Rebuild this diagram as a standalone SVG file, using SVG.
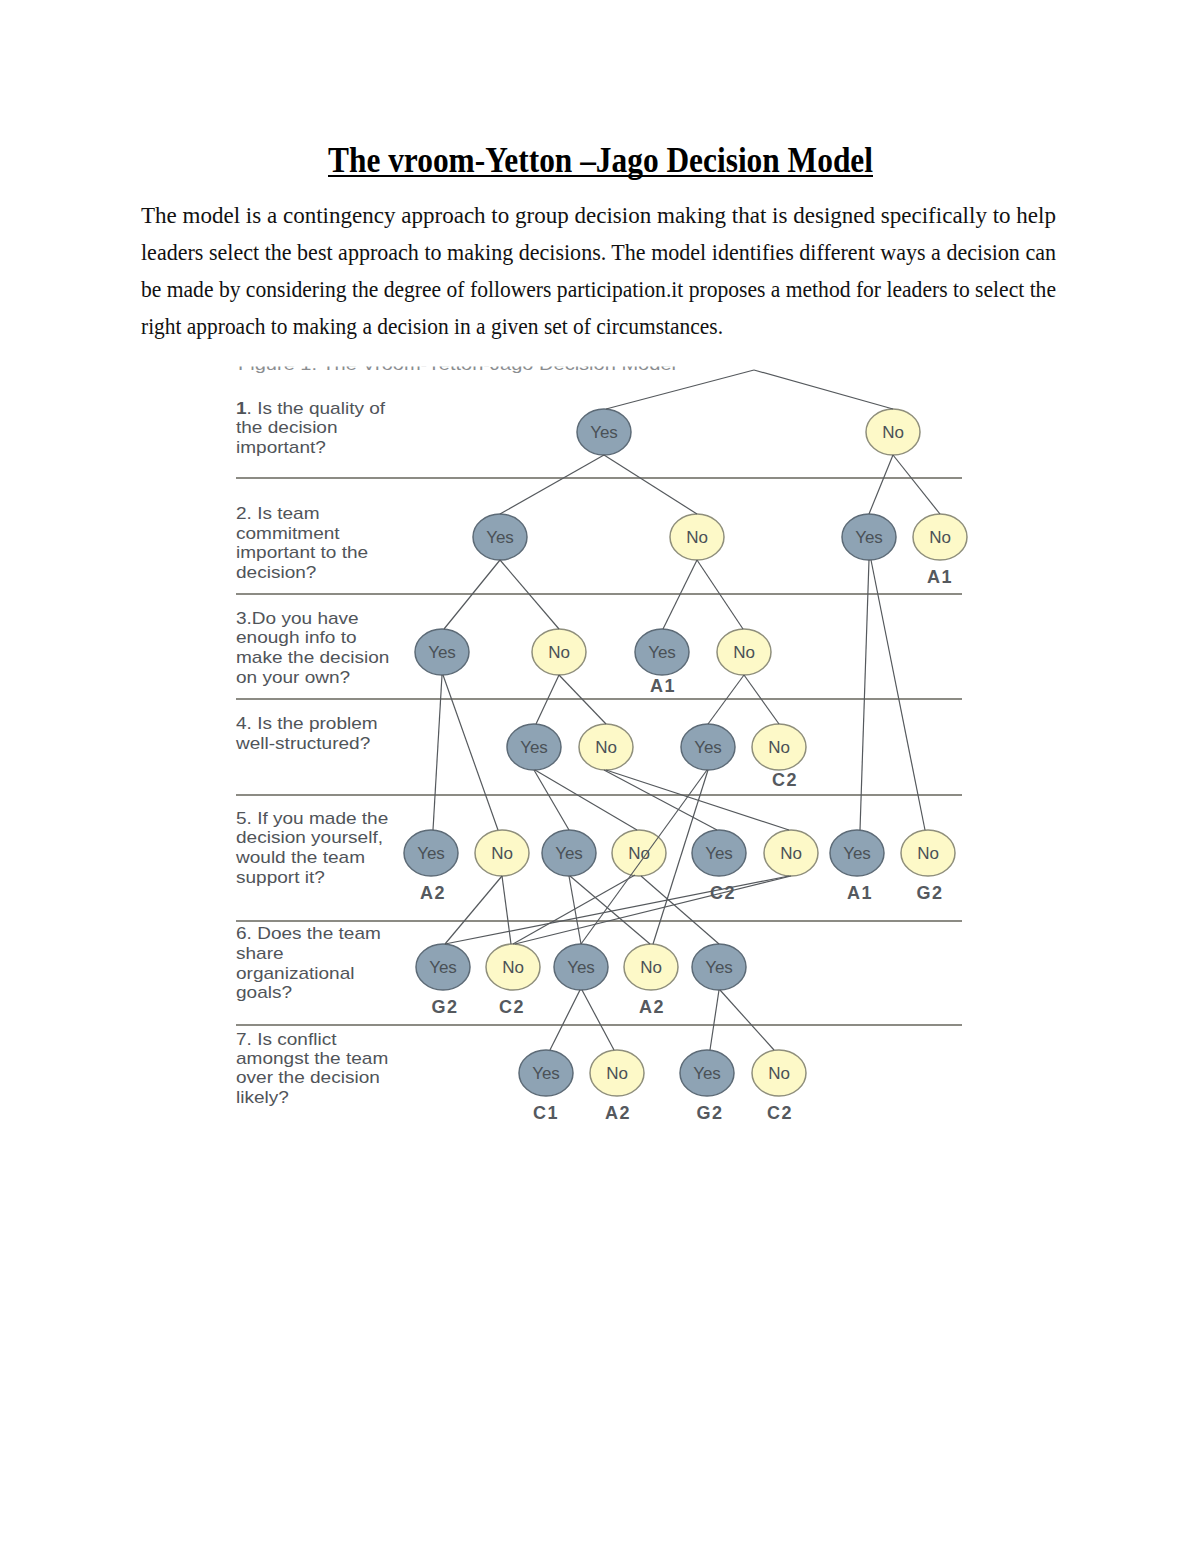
<svg xmlns="http://www.w3.org/2000/svg" width="1200" height="1553" viewBox="0 0 1200 1553">
<defs>
<style>
.bg{fill:#ffffff}
.title{font-family:"Liberation Serif","Times New Roman",serif;font-weight:bold;font-size:35px;fill:#000}
.body{font-family:"Liberation Serif","Times New Roman",serif;font-size:23px;fill:#111}
.q{font-family:"Liberation Sans",Arial,sans-serif;font-size:17px;fill:#505459}
.cap{font-family:"Liberation Sans",Arial,sans-serif;font-size:17px;fill:#8a8d90}
.div{stroke:#8c8b84;stroke-width:2}
.yes{fill:#8ea3b4;stroke:#5d6b77;stroke-width:1.5}
.no{fill:#fdf9c8;stroke:#8f8f7c;stroke-width:1.5}
.nt{font-family:"Liberation Sans",Arial,sans-serif;font-size:17px;fill:#4a5157;text-anchor:middle}
.lb{font-family:"Liberation Sans",Arial,sans-serif;font-size:18px;font-weight:bold;fill:#55595e;text-anchor:middle;letter-spacing:1.5px}
.edges line{stroke:#55595d;stroke-width:1.2}
</style>
<clipPath id="capclip"><rect x="230" y="366.5" width="460" height="8"/></clipPath>
</defs>
<rect class="bg" x="0" y="0" width="1200" height="1553"/>

<g id="header">
<text class="title" x="328" y="172" textLength="545" lengthAdjust="spacingAndGlyphs">The vroom-Yetton –Jago Decision Model</text>
<line x1="328" y1="176" x2="873" y2="176" stroke="#000" stroke-width="2"/>
<text class="body" x="141" y="223" textLength="915" lengthAdjust="spacingAndGlyphs">The model is a contingency approach to group decision making that is designed specifically to help</text>
<text class="body" x="141" y="260" textLength="915" lengthAdjust="spacingAndGlyphs">leaders select the best approach to making decisions. The model identifies different ways a decision can</text>
<text class="body" x="141" y="297" textLength="915" lengthAdjust="spacingAndGlyphs">be made by considering the degree of followers participation.it proposes a method for leaders to select the</text>
<text class="body" x="141" y="334" textLength="582" lengthAdjust="spacingAndGlyphs">right approach to making a decision in a given set of circumstances.</text>
</g>

<g id="caption" clip-path="url(#capclip)">
<text class="cap" x="238" y="369.5" textLength="438" lengthAdjust="spacingAndGlyphs">Figure 1: The Vroom-Yetton-Jago Decision Model</text>
</g>

<g id="dividers">
<line class="div" x1="236" y1="478" x2="962" y2="478"/>
<line class="div" x1="236" y1="594" x2="962" y2="594"/>
<line class="div" x1="236" y1="699" x2="962" y2="699"/>
<line class="div" x1="236" y1="795" x2="962" y2="795"/>
<line class="div" x1="236" y1="921" x2="962" y2="921"/>
<line class="div" x1="236" y1="1025" x2="962" y2="1025"/>
</g>

<g id="questions" transform="translate(236 0) scale(1.12 1)">
<text class="q" x="0" y="414"><tspan font-weight="bold">1</tspan>. Is the quality of</text>
<text class="q" x="0" y="433">the decision</text>
<text class="q" x="0" y="453">important?</text>
<text class="q" x="0" y="519">2. Is team</text>
<text class="q" x="0" y="539">commitment</text>
<text class="q" x="0" y="558">important to the</text>
<text class="q" x="0" y="578">decision?</text>
<text class="q" x="0" y="624">3.Do you have</text>
<text class="q" x="0" y="643">enough info to</text>
<text class="q" x="0" y="663">make the decision</text>
<text class="q" x="0" y="683">on your own?</text>
<text class="q" x="0" y="729">4. Is the problem</text>
<text class="q" x="0" y="749">well-structured?</text>
<text class="q" x="0" y="824">5. If you made the</text>
<text class="q" x="0" y="843">decision yourself,</text>
<text class="q" x="0" y="863">would the team</text>
<text class="q" x="0" y="883">support it?</text>
<text class="q" x="0" y="939">6. Does the team</text>
<text class="q" x="0" y="959">share</text>
<text class="q" x="0" y="979">organizational</text>
<text class="q" x="0" y="998">goals?</text>
<text class="q" x="0" y="1045">7. Is conflict</text>
<text class="q" x="0" y="1064">amongst the team</text>
<text class="q" x="0" y="1083">over the decision</text>
<text class="q" x="0" y="1103">likely?</text>
</g>

<!-- Row 1 -->
<g id="r1-yes"><ellipse class="yes" cx="604" cy="432" rx="27" ry="23"/><text class="nt" x="604" y="438">Yes</text></g>
<g id="r1-no"><ellipse class="no" cx="893" cy="432" rx="27" ry="23"/><text class="nt" x="893" y="438">No</text></g>
<!-- Row 2 -->
<g id="r2-yes-a"><ellipse class="yes" cx="500" cy="537" rx="27" ry="23"/><text class="nt" x="500" y="543">Yes</text></g>
<g id="r2-no-a"><ellipse class="no" cx="697" cy="537" rx="27" ry="23"/><text class="nt" x="697" y="543">No</text></g>
<g id="r2-yes-b"><ellipse class="yes" cx="869" cy="537" rx="27" ry="23"/><text class="nt" x="869" y="543">Yes</text></g>
<g id="r2-no-b"><ellipse class="no" cx="940" cy="537" rx="27" ry="23"/><text class="nt" x="940" y="543">No</text><text class="lb" x="940" y="583">A1</text></g>
<!-- Row 3 -->
<g id="r3-yes-a"><ellipse class="yes" cx="442" cy="652" rx="27" ry="23"/><text class="nt" x="442" y="658">Yes</text></g>
<g id="r3-no-a"><ellipse class="no" cx="559" cy="652" rx="27" ry="23"/><text class="nt" x="559" y="658">No</text></g>
<g id="r3-yes-b"><ellipse class="yes" cx="662" cy="652" rx="27" ry="23"/><text class="nt" x="662" y="658">Yes</text><text class="lb" x="663" y="692">A1</text></g>
<g id="r3-no-b"><ellipse class="no" cx="744" cy="652" rx="27" ry="23"/><text class="nt" x="744" y="658">No</text></g>
<!-- Row 4 -->
<g id="r4-yes-a"><ellipse class="yes" cx="534" cy="747" rx="27" ry="23"/><text class="nt" x="534" y="753">Yes</text></g>
<g id="r4-no-a"><ellipse class="no" cx="606" cy="747" rx="27" ry="23"/><text class="nt" x="606" y="753">No</text></g>
<g id="r4-yes-b"><ellipse class="yes" cx="708" cy="747" rx="27" ry="23"/><text class="nt" x="708" y="753">Yes</text></g>
<g id="r4-no-b"><ellipse class="no" cx="779" cy="747" rx="27" ry="23"/><text class="nt" x="779" y="753">No</text><text class="lb" x="785" y="786">C2</text></g>
<!-- Row 5 -->
<g id="r5-yes-a"><ellipse class="yes" cx="431" cy="853" rx="27" ry="23"/><text class="nt" x="431" y="859">Yes</text><text class="lb" x="433" y="899">A2</text></g>
<g id="r5-no-a"><ellipse class="no" cx="502" cy="853" rx="27" ry="23"/><text class="nt" x="502" y="859">No</text></g>
<g id="r5-yes-b"><ellipse class="yes" cx="569" cy="853" rx="27" ry="23"/><text class="nt" x="569" y="859">Yes</text></g>
<g id="r5-no-b"><ellipse class="no" cx="639" cy="853" rx="27" ry="23"/><text class="nt" x="639" y="859">No</text></g>
<g id="r5-yes-c"><ellipse class="yes" cx="719" cy="853" rx="27" ry="23"/><text class="nt" x="719" y="859">Yes</text><text class="lb" x="723" y="899">C2</text></g>
<g id="r5-no-c"><ellipse class="no" cx="791" cy="853" rx="27" ry="23"/><text class="nt" x="791" y="859">No</text></g>
<g id="r5-yes-d"><ellipse class="yes" cx="857" cy="853" rx="27" ry="23"/><text class="nt" x="857" y="859">Yes</text><text class="lb" x="860" y="899">A1</text></g>
<g id="r5-no-d"><ellipse class="no" cx="928" cy="853" rx="27" ry="23"/><text class="nt" x="928" y="859">No</text><text class="lb" x="930" y="899">G2</text></g>
<!-- Row 6 -->
<g id="r6-yes-a"><ellipse class="yes" cx="443" cy="967" rx="27" ry="23"/><text class="nt" x="443" y="973">Yes</text><text class="lb" x="445" y="1013">G2</text></g>
<g id="r6-no-a"><ellipse class="no" cx="513" cy="967" rx="27" ry="23"/><text class="nt" x="513" y="973">No</text><text class="lb" x="512" y="1013">C2</text></g>
<g id="r6-yes-b"><ellipse class="yes" cx="581" cy="967" rx="27" ry="23"/><text class="nt" x="581" y="973">Yes</text></g>
<g id="r6-no-b"><ellipse class="no" cx="651" cy="967" rx="27" ry="23"/><text class="nt" x="651" y="973">No</text><text class="lb" x="652" y="1013">A2</text></g>
<g id="r6-yes-c"><ellipse class="yes" cx="719" cy="967" rx="27" ry="23"/><text class="nt" x="719" y="973">Yes</text></g>
<!-- Row 7 -->
<g id="r7-yes-a"><ellipse class="yes" cx="546" cy="1073" rx="27" ry="23"/><text class="nt" x="546" y="1079">Yes</text><text class="lb" x="546" y="1119">C1</text></g>
<g id="r7-no-a"><ellipse class="no" cx="617" cy="1073" rx="27" ry="23"/><text class="nt" x="617" y="1079">No</text><text class="lb" x="618" y="1119">A2</text></g>
<g id="r7-yes-b"><ellipse class="yes" cx="707" cy="1073" rx="27" ry="23"/><text class="nt" x="707" y="1079">Yes</text><text class="lb" x="710" y="1119">G2</text></g>
<g id="r7-no-b"><ellipse class="no" cx="779" cy="1073" rx="27" ry="23"/><text class="nt" x="779" y="1079">No</text><text class="lb" x="780" y="1119">C2</text></g>

<g id="connectors" class="edges">
<line x1="754" y1="370" x2="606" y2="409"/>
<line x1="754" y1="370" x2="893" y2="409"/>
<line x1="604" y1="455" x2="500" y2="514"/>
<line x1="604" y1="455" x2="697" y2="514"/>
<line x1="893" y1="455" x2="869" y2="514"/>
<line x1="893" y1="455" x2="940" y2="514"/>
<line x1="500" y1="560" x2="444" y2="629"/>
<line x1="500" y1="560" x2="559" y2="629"/>
<line x1="697" y1="560" x2="663" y2="629"/>
<line x1="697" y1="560" x2="743" y2="629"/>
<line x1="869" y1="560" x2="860" y2="830"/>
<line x1="871" y1="560" x2="925" y2="830"/>
<line x1="442" y1="675" x2="433" y2="830"/>
<line x1="443" y1="675" x2="498" y2="830"/>
<line x1="559" y1="675" x2="536" y2="724"/>
<line x1="559" y1="675" x2="606" y2="724"/>
<line x1="744" y1="675" x2="708" y2="724"/>
<line x1="744" y1="675" x2="779" y2="724"/>
<line x1="534" y1="770" x2="569" y2="830"/>
<line x1="535" y1="770" x2="637" y2="830"/>
<line x1="604" y1="770" x2="717" y2="830"/>
<line x1="606" y1="770" x2="789" y2="830"/>
<line x1="707" y1="770" x2="581" y2="944"/>
<line x1="708" y1="770" x2="653" y2="944"/>
<line x1="502" y1="876" x2="445" y2="944"/>
<line x1="502" y1="876" x2="511" y2="944"/>
<line x1="569" y1="876" x2="581" y2="944"/>
<line x1="570" y1="876" x2="650" y2="944"/>
<line x1="635" y1="875" x2="513" y2="944"/>
<line x1="641" y1="876" x2="719" y2="944"/>
<line x1="789" y1="876" x2="445" y2="944"/>
<line x1="791" y1="876" x2="515" y2="944"/>
<line x1="580" y1="990" x2="550" y2="1050"/>
<line x1="582" y1="990" x2="614" y2="1050"/>
<line x1="719" y1="990" x2="710" y2="1050"/>
<line x1="720" y1="990" x2="774" y2="1050"/>
</g>
</svg>
